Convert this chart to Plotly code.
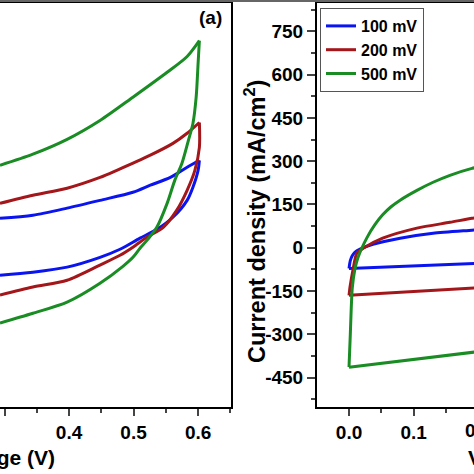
import plotly.graph_objects as go

# ---------------- Left panel (a): CV loops, voltage (V) vs current ----------------
# forward (upper) branches, from low to high voltage
a_blue_up_v = [0.293, 0.344, 0.397, 0.448, 0.499, 0.526, 0.557, 0.583, 0.602]
a_blue_up_i = [-4.0, -3.1, -1.0, 1.3, 3.7, 5.8, 8.1, 11.1, 13.2]
# reverse (lower) branches, from the vertex back to low voltage
a_blue_dn_v = [0.602, 0.600, 0.592, 0.583, 0.561, 0.536, 0.510, 0.479, 0.448, 0.397, 0.344, 0.293]
a_blue_dn_i = [13.2, 10.2, 5.2, 1.3, -3.7, -7.3, -9.9, -13.2, -15.6, -18.5, -20.0, -20.9]

a_red_up_v = [0.293, 0.344, 0.397, 0.448, 0.474, 0.526, 0.561, 0.583, 0.602]
a_red_up_i = [0.4, 2.8, 4.9, 8.1, 10.2, 14.7, 18.2, 21.2, 24.4]
a_red_dn_v = [0.602, 0.602, 0.595, 0.583, 0.567, 0.546, 0.521, 0.499, 0.479, 0.448, 0.397, 0.344, 0.293]
a_red_dn_i = [24.4, 17.0, 10.2, 4.3, -1.6, -6.7, -9.6, -12.6, -15.0, -17.9, -22.4, -24.4, -26.8]

a_green_up_v = [0.293, 0.344, 0.397, 0.448, 0.499, 0.552, 0.583, 0.602]
a_green_up_i = [11.7, 15.0, 19.4, 25.0, 31.9, 39.3, 44.0, 48.7]
a_green_dn_v = [0.602, 0.600, 0.597, 0.592, 0.585, 0.575, 0.564, 0.552, 0.536, 0.521, 0.510,
                0.499, 0.484, 0.448, 0.397, 0.344, 0.293]
a_green_dn_i = [48.7, 41.9, 31.9, 24.1, 19.1, 12.3, 7.3, 0.4, -6.7, -10.5, -12.9,
                -15.6, -18.2, -23.3, -28.9, -32.2, -35.1]

# ---------------- Right panel: current density (mA/cm2) vs voltage ----------------
b_blue_dn_v = [0.20, 0.10, 0.0]
b_blue_dn_i = [-54, -63, -72]
b_blue_up_v = [0.0, 0.002, 0.005, 0.009, 0.017, 0.037, 0.079, 0.13, 0.19, 0.20]
b_blue_up_i = [-72, -45, -28, -16, -5, 12, 33, 50, 61, 63]

b_red_dn_v = [0.20, 0.10, 0.0]
b_red_dn_i = [-139, -152, -165]
b_red_up_v = [0.0, 0.0015, 0.006, 0.012, 0.022, 0.052, 0.105, 0.156, 0.19, 0.20]
b_red_up_i = [-165, -137, -78, -19, -2, 33, 68, 88, 102, 105]

b_green_dn_v = [0.20, 0.10, 0.05, 0.0]
b_green_dn_i = [-360, -388, -400, -414]
b_green_up_v = [0.0, 0.002, 0.005, 0.009, 0.014, 0.028, 0.040, 0.052, 0.065, 0.079,
                0.105, 0.13, 0.156, 0.19, 0.20]
b_green_up_i = [-414, -300, -140, -75, -33, 36, 80, 114, 142, 165,
                199, 227, 251, 275, 280]

legend_names = ["100 mV", "200 mV", "500 mV"]
colors = ["#0a14f0", "#a3161a", "#1a8c24"]

y2_tickvals = [-450, -300, -150, 0, 150, 300, 450, 600, 750]
y2_ticktext = ["-450", "-300", "-150", "0", "150", "300", "450", "600", "750"]

W = H = 474
FONT = "Liberation Sans"

fig = go.Figure()

left_sets = [
    (a_blue_up_v, a_blue_up_i, a_blue_dn_v, a_blue_dn_i, colors[0]),
    (a_red_up_v, a_red_up_i, a_red_dn_v, a_red_dn_i, colors[1]),
    (a_green_up_v, a_green_up_i, a_green_dn_v, a_green_dn_i, colors[2]),
]
for uv, ui, dv, di, c in left_sets:
    for v, i in [(uv, ui), (dv, di)]:
        fig.add_trace(go.Scatter(x=v, y=i, mode="lines",
                                 line=dict(color=c, width=3, shape="spline", smoothing=0.8),
                                 showlegend=False, xaxis="x", yaxis="y"))

right_sets = [
    (b_blue_dn_v, b_blue_dn_i, b_blue_up_v, b_blue_up_i, colors[0], legend_names[0]),
    (b_red_dn_v, b_red_dn_i, b_red_up_v, b_red_up_i, colors[1], legend_names[1]),
    (b_green_dn_v, b_green_dn_i, b_green_up_v, b_green_up_i, colors[2], legend_names[2]),
]
for dv, di, uv, ui, c, n in right_sets:
    fig.add_trace(go.Scatter(x=dv, y=di, mode="lines", line=dict(color=c, width=3),
                             name=n, legendgroup=n, showlegend=True, xaxis="x2", yaxis="y2"))
    fig.add_trace(go.Scatter(x=uv, y=ui, mode="lines",
                             line=dict(color=c, width=3, shape="spline", smoothing=0.7),
                             name=n, legendgroup=n, showlegend=False, xaxis="x2", yaxis="y2"))

ydom = [1 - 407 / H, 1 - 2.5 / H]
x1dom = [0, 231 / W]
x2dom = [317 / W, 1]
x2range = [-0.0495, 0.1932]

tickfont = dict(family=FONT, size=19, color="black", weight="bold")
axline = dict(showline=True, linecolor="black", linewidth=2, showgrid=False, zeroline=False)

fig.update_layout(
    width=W, height=H, margin=dict(l=0, r=0, t=0, b=0),
    paper_bgcolor="white", plot_bgcolor="white",
    xaxis=dict(domain=x1dom, range=[0.293, 0.651], anchor="y", mirror=True,
               ticks="outside", ticklen=7, tickwidth=2, dtick=0.1, tick0=0,
               tickformat=".1f", tickfont=tickfont, automargin=False,
               minor=dict(ticks="outside", ticklen=4, tickwidth=2, dtick=0.05, tick0=0),
               **axline),
    yaxis=dict(domain=ydom, range=[-60, 60], anchor="x", side="right",
               showticklabels=False, ticks="", automargin=False, **axline),
    xaxis2=dict(domain=x2dom, range=x2range, anchor="y2", mirror=True,
                ticks="outside", ticklen=7, tickwidth=2, dtick=0.1, tick0=0,
                tickformat=".1f", tickfont=tickfont, automargin=False,
                minor=dict(ticks="outside", ticklen=4, tickwidth=2, dtick=0.05, tick0=0),
                **axline),
    yaxis2=dict(domain=ydom, range=[-552, 850], anchor="x2", side="left",
                tickmode="array", tickvals=y2_tickvals, ticktext=y2_ticktext,
                ticks="outside", ticklen=8, tickwidth=2, tickfont=tickfont,
                automargin=False,
                minor=dict(ticks="outside", ticklen=4, tickwidth=2, tickmode="linear",
                           dtick=75, tick0=0),
                **axline),
    legend=dict(x=320 / W, y=1 - 8 / H, xanchor="left", yanchor="top",
                bgcolor="white", bordercolor="#555", borderwidth=1,
                font=dict(family=FONT, size=16, color="black", weight="bold"),
                tracegroupgap=0),
)

# position of the (off-page) 0.2 tick of the right panel, via the axis mapping
x02 = x2dom[0] + (0.2 - x2range[0]) / (x2range[1] - x2range[0]) * (x2dom[1] - x2dom[0])

titlefont = dict(family=FONT, size=21, color="black", weight="bold")
fig.add_annotation(text="(a)", x=224 / W, y=1 - 18 / H, xref="paper", yref="paper",
                   xanchor="right", yanchor="middle", showarrow=False,
                   font=dict(family=FONT, size=19, color="black", weight="bold"))
fig.add_annotation(text="Current density (mA/cm<sup>2</sup>)", x=255 / W,
                   y=1 - 222 / H, xref="paper", yref="paper",
                   textangle=-90, showarrow=False, xanchor="center", yanchor="middle",
                   font=dict(family=FONT, size=23.5, color="black", weight="bold"))
fig.add_annotation(text="Voltage (V)", x=57 / W, y=1 - 457 / H, xref="paper", yref="paper",
                   xanchor="right", yanchor="middle", showarrow=False, font=titlefont)
fig.add_annotation(text="Voltage (V)", x=466 / W, y=1 - 457 / H, xref="paper", yref="paper",
                   xanchor="left", yanchor="middle", showarrow=False, font=titlefont)
fig.add_annotation(text="0.2", x=x02, y=1 - 430 / H, xref="paper", yref="paper",
                   xanchor="center", yanchor="middle", showarrow=False, font=tickfont)

fig.add_shape(type="rect", xref="paper", yref="paper", x0=0, x1=1, y0=1 - 2 / H, y1=1,
              fillcolor="#666", line=dict(width=0), layer="above")

fig.write_html("out.html")
